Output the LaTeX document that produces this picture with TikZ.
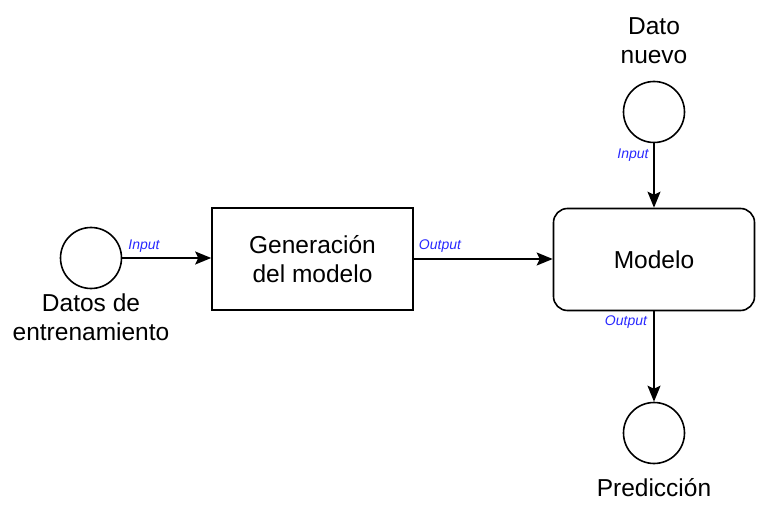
\documentclass[tikz,border=0pt]{standalone}
\usepackage{fontspec}
\setmainfont{Liberation Sans}
\usetikzlibrary{arrows.meta}
\definecolor{lblblue}{RGB}{40,40,255}
\tikzset{
  every node/.style={font=\fontsize{24.5}{29}\selectfont},
  circ/.style={draw, circle, line width=1.6pt, minimum size=61pt, inner sep=0pt},
  procbox/.style={draw, rectangle, line width=1.6pt, minimum width=201pt, minimum height=102pt, align=center},
  modbox/.style={procbox, rounded corners=14pt},
  lbl/.style={font=\fontsize{14}{16}\selectfont\itshape, text=lblblue, inner sep=0pt},
  txt/.style={align=center, inner sep=0pt},
  conn/.style={line width=1.6pt, -{Stealth[length=16pt,width=13pt,inset=3pt]}}
}
\begin{document}
\begin{tikzpicture}[x=1pt,y=-1pt]
\useasboundingbox (0,0) rectangle (768,529);
\node[circ] (c1) at (91,258) {};
\node[txt] (t1) at (91,317) {Datos de\\entrenamiento};
\node[procbox] (gen) at (312.5,259) {Generación\\del modelo};
\node[modbox] (mod) at (654,259.5) {Modelo};
\node[circ] (c2) at (654,112) {};
\node[txt] (t2) at (654,41) {Dato\\nuevo};
\node[circ] (c3) at (654,433) {};
\node[txt] (t3) at (654,488) {Predicción};
\draw[conn] (c1) -- (c1 -| gen.west);
\draw[conn] (gen.east) -- (gen.east -| mod.west);
\draw[conn] (c2) -- (mod);
\draw[conn] (mod) -- (c3);
\node[lbl] (l1) at (144,246) {Input};
\node[lbl] (l2) at (440,246) {Output};
\node[lbl] (l3) at (633,155) {Input};
\node[lbl] (l4) at (626,322) {Output};
\end{tikzpicture}
\end{document}
